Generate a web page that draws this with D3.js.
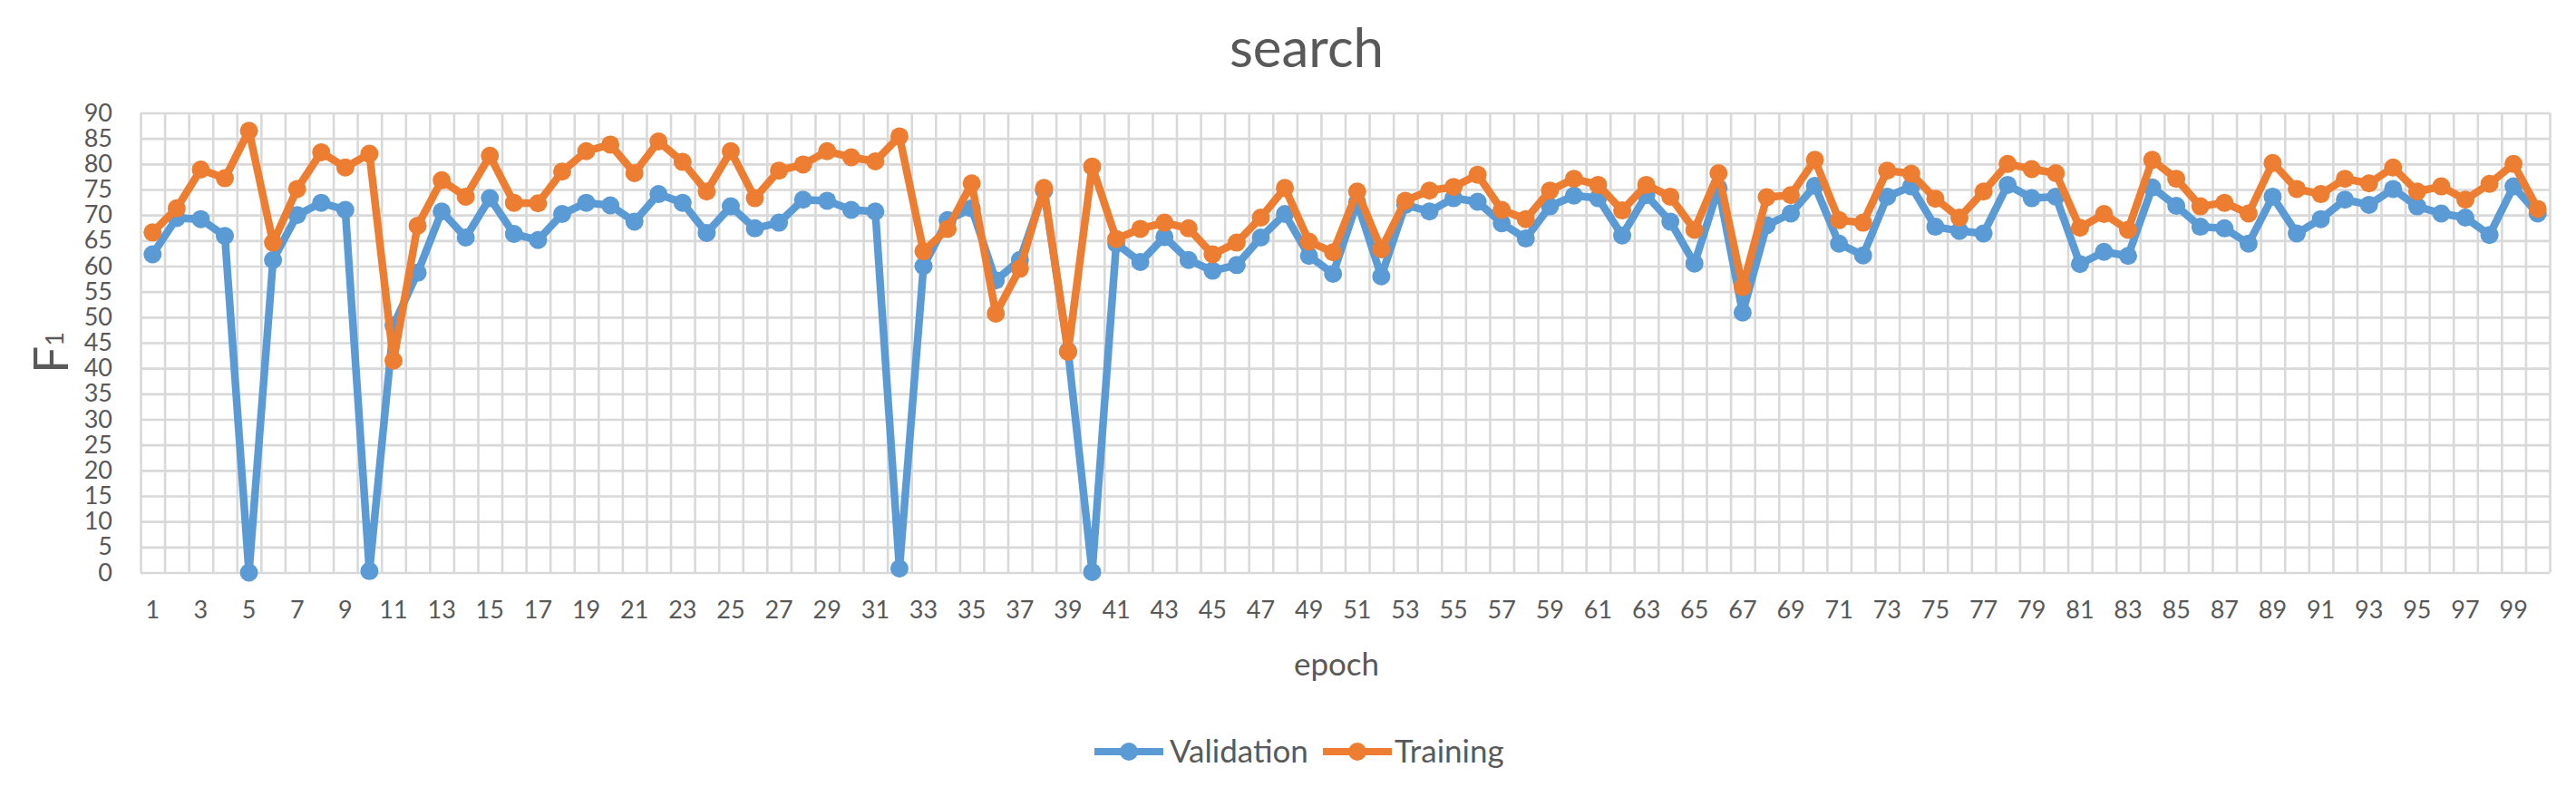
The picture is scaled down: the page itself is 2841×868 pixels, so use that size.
<!DOCTYPE html>
<html>
<head>
<meta charset="utf-8">
<script src="https://cdn.jsdelivr.net/npm/d3@7/dist/d3.min.js"></script>
<style>
  html, body { margin: 0; padding: 0; background: #ffffff; }
  svg { display: block; }
  text { font-family: Lato, "Open Sans", sans-serif; fill: #595959; }
</style>
</head>
<body>
<svg id="chart" width="2841" height="868"></svg>
<script>
const epochs = d3.range(1, 101);
const validation = [
  62.3, 69.4, 69.2, 65.9, 0.0, 61.2, 70.0, 72.4, 71.0, 0.3,
  48.4, 58.7, 70.7, 65.6, 73.3, 66.3, 65.1, 70.2, 72.4, 71.9,
  68.7, 74.1, 72.4, 66.5, 71.7, 67.4, 68.5, 73.0, 72.8, 71.0,
  70.7, 0.8, 60.0, 69.0, 71.3, 57.2, 61.2, 74.8, 43.4, 0.1,
  64.4, 60.8, 65.7, 61.2, 59.1, 60.2, 65.6, 70.2, 62.0, 58.5,
  72.5, 58.0, 72.0, 70.7, 73.3, 72.6, 68.4, 65.4, 71.7, 73.8,
  73.3, 66.0, 73.9, 68.7, 60.5, 75.3, 50.9, 68.0, 70.3, 75.7,
  64.4, 62.1, 73.6, 75.6, 67.7, 66.9, 66.4, 75.9, 73.3, 73.6,
  60.4, 62.8, 62.0, 75.4, 71.8, 67.7, 67.4, 64.4, 73.6, 66.4,
  69.2, 73.0, 72.0, 75.1, 71.7, 70.3, 69.5, 66.1, 75.6, 70.3
];
const training = [
  66.6, 71.3, 78.9, 77.2, 86.5, 64.6, 75.1, 82.3, 79.3, 82.0,
  41.5, 67.9, 76.8, 73.6, 81.6, 72.4, 72.3, 78.5, 82.5, 83.8,
  78.2, 84.4, 80.4, 74.6, 82.5, 73.3, 78.7, 79.9, 82.5, 81.3,
  80.5, 85.4, 62.9, 67.3, 76.2, 50.7, 59.5, 75.3, 43.2, 79.5,
  65.3, 67.3, 68.5, 67.4, 62.3, 64.6, 69.5, 75.3, 64.8, 62.7,
  74.6, 63.3, 72.8, 74.8, 75.5, 77.9, 71.0, 69.2, 74.8, 77.1,
  75.9, 70.9, 75.9, 73.6, 67.1, 78.2, 55.9, 73.5, 73.9, 80.8,
  69.0, 68.5, 78.7, 78.1, 73.2, 69.5, 74.6, 80.0, 79.0, 78.2,
  67.5, 70.2, 67.1, 80.8, 77.1, 71.7, 72.4, 70.3, 80.2, 75.1,
  74.1, 77.1, 76.2, 79.3, 74.6, 75.6, 73.0, 76.1, 80.0, 71.2
];
const yTicks = d3.range(0, 91, 5);
const xTickLabels = epochs.filter(e => e % 2 === 1);
const seriesNames = ["Validation", "Training"];
const titleText = "search";
const xTitle = "epoch";

const colors = { Validation: "#5B9BD5", Training: "#ED7D31" };
const grid = "#D9D9D9";

const svg = d3.select("#chart");
const L = 155, R = 2812, T = 124.5, B = 631.5;

const x = d3.scaleBand().domain(epochs).range([L, R]).padding(0);
const xEdge = d3.scaleLinear().domain([0, epochs.length]).range([L, R]);
const y = d3.scaleLinear().domain([0, 90]).range([B, T]);

// horizontal grid
svg.append("g")
  .attr("transform", `translate(${L},0)`)
  .call(d3.axisLeft(y).tickValues(yTicks).tickSize(-(R - L)).tickFormat(""))
  .call(g => g.select(".domain").remove())
  .call(g => g.selectAll("line").attr("stroke", grid).attr("stroke-width", 2.6));

// vertical grid at category boundaries
svg.append("g")
  .attr("transform", `translate(0,${B})`)
  .call(d3.axisBottom(xEdge).tickValues(d3.range(0, epochs.length + 1)).tickSize(-(B - T)).tickFormat(""))
  .call(g => g.select(".domain").remove())
  .call(g => g.selectAll("line").attr("stroke", grid).attr("stroke-width", 2.6));

// y tick labels
svg.append("g")
  .attr("transform", `translate(${L},0)`)
  .call(d3.axisLeft(y).tickValues(yTicks).tickSize(0).tickPadding(31))
  .call(g => g.select(".domain").remove())
  .call(g => g.selectAll("text").style("font-size", "27px").attr("fill", "#595959"));

// x tick labels
svg.append("g")
  .attr("transform", `translate(0,${B})`)
  .call(d3.axisBottom(x).tickValues(xTickLabels).tickSize(0).tickPadding(31))
  .call(g => g.select(".domain").remove())
  .call(g => g.selectAll("text").style("font-size", "27px").attr("fill", "#595959"));

const line = d3.line().x((d, i) => x(epochs[i]) + x.bandwidth() / 2).y(d => y(d));

const data = { Validation: validation, Training: training };
seriesNames.forEach(name => {
  const g = svg.append("g");
  g.append("path")
    .datum(data[name])
    .attr("fill", "none")
    .attr("stroke", colors[name])
    .attr("stroke-width", 8.5)
    .attr("stroke-linejoin", "round")
    .attr("d", line);
  g.selectAll("circle")
    .data(data[name])
    .join("circle")
    .attr("cx", (d, i) => x(epochs[i]) + x.bandwidth() / 2)
    .attr("cy", d => y(d))
    .attr("r", 10)
    .attr("fill", colors[name]);
});

// title
svg.append("text")
  .attr("x", 1441).attr("y", 74)
  .attr("text-anchor", "middle")
  .style("font-size", "60px")
  .text(titleText);

// x axis title
svg.append("text")
  .attr("x", 1474).attr("y", 745)
  .attr("text-anchor", "middle")
  .style("font-size", "35px")
  .text(xTitle);

// y axis title F1
const yt = svg.append("text")
  .attr("transform", "translate(75,389) rotate(-90)")
  .attr("text-anchor", "middle")
  .style("font-size", "53px");
yt.append("tspan").text("F");
yt.append("tspan").style("font-size", "27px").attr("dy", "-5").text("1");

// legend
const legend = [
  { name: "Validation", x0: 1207, tx: 1290 },
  { name: "Training", x0: 1459, tx: 1538 }
];
legend.forEach(l => {
  svg.append("line")
    .attr("x1", l.x0).attr("x2", l.x0 + 76)
    .attr("y1", 829).attr("y2", 829)
    .attr("stroke", colors[l.name]).attr("stroke-width", 8);
  svg.append("circle")
    .attr("cx", l.x0 + 38).attr("cy", 829).attr("r", 10)
    .attr("fill", colors[l.name]);
  svg.append("text")
    .attr("x", l.tx).attr("y", 841)
    .style("font-size", "35px")
    .text(l.name);
});
</script>
</body>
</html>
